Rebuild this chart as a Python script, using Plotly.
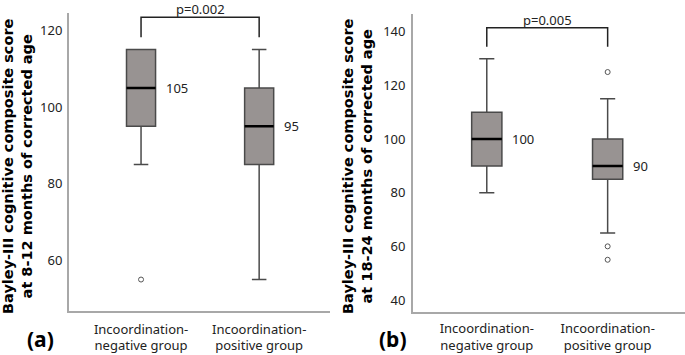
import plotly.graph_objects as go

groups = ["Incoordination-<br>negative group", "Incoordination-<br>positive group"]
positions = [0, 1]

# Panel (a): 8-12 months
a_q1 = [95, 85]
a_med = [105, 95]
a_q3 = [115, 105]
a_low = [85, 55]
a_up = [115, 115]
a_out_x = [0]
a_out_y = [55]
a_p = "p=0.002"
a_bracket = [118.2, 123.4]

# Panel (b): 18-24 months
b_q1 = [90, 85]
b_med = [100, 90]
b_q3 = [110, 100]
b_low = [80, 65]
b_up = [130, 115]
b_out_x = [1, 1, 1]
b_out_y = [125, 60, 55]
b_p = "p=0.005"
b_bracket = [134.4, 141.5]

FONT = "Noto Sans"
FILL = "#989392"
EDGE = "#4a4a4a"
AXIS = "#a8a8a8"

fig = go.Figure()

def add_panel(xa, ya, q1, med, q3, low, up, ox, oy, width, ptxt, bracket):
    fig.add_trace(go.Box(
        x=positions, q1=q1, median=med, q3=q3, lowerfence=low, upperfence=up,
        width=width, whiskerwidth=0.5, fillcolor=FILL,
        line=dict(color=EDGE, width=1.5), boxpoints=False,
        xaxis=xa, yaxis=ya, showlegend=False, hoverinfo="skip"))
    for i, m in zip(positions, med):
        fig.add_trace(go.Scatter(
            x=[i - width / 2, i + width / 2], y=[m, m], mode="lines",
            line=dict(color="black", width=2.5), xaxis=xa, yaxis=ya,
            showlegend=False, hoverinfo="skip"))
        fig.add_annotation(x=i + width / 2, y=m, xref=xa, yref=ya,
                           text=str(m), showarrow=False, xanchor="left",
                           xshift=8, font=dict(family=FONT, size=13, color="#222"))
    fig.add_trace(go.Scatter(
        x=ox, y=oy, mode="markers",
        marker=dict(symbol="circle-open", size=5, color="#555", line=dict(width=1)),
        xaxis=xa, yaxis=ya, showlegend=False, hoverinfo="skip"))
    fig.add_trace(go.Scatter(
        x=[positions[0], positions[0], positions[1], positions[1]],
        y=[bracket[0], bracket[1], bracket[1], bracket[0]], mode="lines",
        line=dict(color="#222", width=1.5), xaxis=xa, yaxis=ya,
        showlegend=False, hoverinfo="skip", cliponaxis=False))
    fig.add_annotation(x=(positions[0] + positions[1]) / 2, y=bracket[1],
                       xref=xa, yref=ya, text=ptxt, showarrow=False,
                       yanchor="bottom", yshift=-3,
                       font=dict(family=FONT, size=13, color="#222"))

add_panel("x", "y", a_q1, a_med, a_q3, a_low, a_up, a_out_x, a_out_y, 0.246, a_p, a_bracket)
add_panel("x2", "y2", b_q1, b_med, b_q3, b_low, b_up, b_out_x, b_out_y, 0.25, b_p, b_bracket)

axis_common = dict(showline=True, linecolor=AXIS, linewidth=2, showgrid=False,
                   zeroline=False, ticks="", automargin=False,
                   tickfont=dict(family=FONT, size=13, color="#222"))

fig.update_layout(
    width=685, height=355, margin=dict(l=0, r=0, t=0, b=0),
    paper_bgcolor="white", plot_bgcolor="white",
    xaxis=dict(domain=[0.1007, 0.4818], range=[-0.61, 1.60], tickvals=positions,
               ticktext=groups, ticklabelstandoff=5, **axis_common),
    yaxis=dict(domain=[0.124, 0.963], range=[46.8, 124.5], tickvals=[60, 80, 100, 120],
               ticklabelstandoff=2, **axis_common),
    xaxis2=dict(domain=[0.603, 1.0], range=[-0.61, 1.64], tickvals=positions,
                ticktext=groups, ticklabelstandoff=3, anchor="y2", **axis_common),
    yaxis2=dict(domain=[0.121, 0.961], range=[35.5, 146.7], tickvals=[40, 60, 80, 100, 120, 140],
                ticklabelstandoff=3, anchor="x2", **axis_common),
)

ytitle_a = "Bayley-III cognitive composite score<br>at 8-12 months of corrected age"
ytitle_b = "Bayley-III cognitive composite score<br>at 18-24 months of corrected age"
for xpx, txt in [(17.5, ytitle_a), (357.5, ytitle_b)]:
    fig.add_annotation(x=xpx / 685, y=(355 - 166.5) / 355, xref="paper", yref="paper", text=txt,
                       textangle=-90, showarrow=False, xanchor="center", yanchor="middle",
                       font=dict(family="DejaVu Sans", size=14.5, color="black", weight="bold"))

for xpx, txt in [(40, "(a)"), (393, "(b)")]:
    fig.add_annotation(x=xpx / 685, y=(355 - 339) / 355, xref="paper", yref="paper",
                       text=txt, showarrow=False, xanchor="center", yanchor="middle",
                       font=dict(family=FONT, size=21, color="black", weight="bold"))

fig.write_html("out.html", config={"displayModeBar": False},
               post_script="document.body.style.margin='0';")
